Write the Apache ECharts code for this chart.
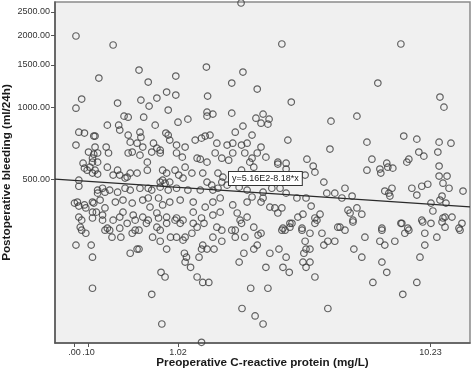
<!DOCTYPE html>
<html><head><meta charset="utf-8">
<script src="https://cdn.jsdelivr.net/npm/echarts@6/dist/echarts.min.js"></script>
<style>html,body{margin:0;padding:0;background:#fff}#c{width:474px;height:379px}</style>
</head><body><div id="c"></div>
<script>
// Preoperative C-reactive protein (mg/L), one entry per patient
const crp = [
2.10,0.01,0.30,0.55,1.45,0.18,0.65,0.99,2.14,1.91,
2.46,0.05,0.01,0.34,0.57,0.75,0.87,0.99,1.47,0.66,
0.89,1.46,1.56,1.46,1.91,0.40,0.44,0.60,2.43,1.16,
3.09,8.18,6.85,10.97,11.30,3.36,2.60,2.75,5.81,
0.25,0.35,0.73,1.02,2.14,0.03,0.07,0.14,0.36,0.44,
0.56,0.57,0.86,0.89,1.43,1.51,1.98,2.34,0.01,0.24,
0.46,0.53,0.59,0.71,0.75,0.79,0.91,1.00,1.12,1.27,
1.37,1.63,1.82,1.93,2.11,2.23,0.10,0.17,0.26,0.44,
0.48,0.56,0.69,0.79,1.00,1.08,1.30,1.35,1.46,1.60,
1.72,1.85,1.93,2.18,2.34,2.46,0.06,0.13,0.11,0.09,
0.13,0.25,0.34,0.36,0.46,0.53,0.64,0.64,0.82,0.87,
0.98,1.12,1.03,1.22,1.39,1.65,1.74,2.11,2.08,2.38,
2.29,0.03,0.03,0.30,0.41,0.43,0.79,0.82,0.85,0.91,
1.09,1.46,1.54,1.56,1.65,1.72,1.82,2.06,2.23,0.17,
0.21,0.23,0.27,0.34,0.41,0.46,0.56,0.65,0.69,0.79,
0.89,1.00,1.16,1.35,0.02,0.07,0.13,0.19,0.13,0.23,
0.32,0.39,0.39,0.48,0.59,0.65,0.67,0.77,0.82,0.91,
1.05,1.24,1.24,1.43,1.56,1.69,1.93,2.23,2.34,0.03,
0.05,0.13,0.21,0.30,0.36,0.49,0.51,0.59,0.65,0.75,
0.77,0.87,1.00,1.09,1.37,1.56,1.69,2.02,2.23,2.38,
0.04,0.25,0.36,0.75,1.30,1.63,2.08,
0.15,0.15,0.14,0.13,0.17,0.07,0.15,0.17,0.17,0.00,0.03,0.08,0.14,0.16,
2.55,2.72,4.71,3.26,4.67,2.55,2.67,2.98,3.21,2.98,
3.85,4.06,4.12,3.79,4.44,3.21,6.29,6.54,6.29,6.96,
7.01,7.34,7.40,7.69,8.36,9.23,9.37,9.73,10.90,11.90,
10.80,10.90,10.90,11.56,11.22,11.73,13.00,8.56,8.69,8.89,
9.58,10.02,9.23,10.26,10.97,11.14,11.47,7.23,7.46,7.64,
7.52,4.55,4.86,5.15,5.28,5.59,3.82,3.53,2.82,3.04,
2.60,2.60,3.21,2.55,2.77,2.90,3.09,2.98,3.99,4.30,
4.12,3.72,3.56,3.32,3.12,3.69,4.98,5.07,5.41,5.50,
5.81,6.04,5.63,7.07,8.18,8.62,9.58,10.26,10.41,11.22,
11.99,11.39,12.90,12.62,11.39,
0.05,0.08,0.23,0.27,0.29,0.37,0.48,0.51,0.55,0.70,
0.79,0.79,0.92,1.00,1.09,1.12,1.22,1.56,1.72,1.72,
1.91,1.98,1.98,2.18,2.48,0.01,0.12,0.13,0.46,0.53,
0.55,0.87,1.11,1.14,1.12,1.20,1.33,1.37,1.39,1.46,
1.58,2.16,2.06,2.38,2.46,0.80,0.85,1.30,1.39,1.49,
0.13,0.69,2.31,2.12,2.41,0.81,1.37,0.43,0.63,0.87,
1.05,1.24,1.41,2.11,0.98,0.21,
2.55,3.09,3.18,3.32,3.38,3.69,3.95,4.12,4.19,4.37,
5.28,5.63,4.59,4.86,4.44,6.19,7.07,6.96,7.23,7.81,
8.24,8.43,8.69,9.65,9.80,10.72,11.14,12.72,
2.77,3.01,3.21,3.79,3.82,3.75,3.95,3.72,3.95,3.82,
2.67,3.12,3.30,4.12,5.67,6.04,7.07,7.34,9.80,9.45,
2.72,6.59,9.23,8.30,4.59,2.60
];
// Postoperative bleeding (ml/24h), same order as crp
const bleeding = [
2724,1983,1819,1429,1471,1323,1273,1349,1402,1261,
1190,1081,990,1040,1070,1091,1156,1123,1112,1010,
972,953,935,917,944,917,908,908,899,891,
1836,1836,1261,1102,1000,1050,935,891,917,
841,841,841,865,833,786,779,757,802,764,
786,749,779,764,757,764,786,764,694,681,
714,707,681,707,674,661,728,694,681,728,
742,707,694,707,694,707,649,643,643,643,
649,630,649,643,643,618,612,606,589,643,
612,600,643,643,612,643,583,589,561,545,
530,561,545,520,530,530,589,545,545,530,
545,561,520,530,530,530,510,545,520,561,
589,495,467,520,505,510,486,495,481,486,
505,486,472,450,458,486,472,463,450,450,
458,441,450,441,458,450,458,458,450,463,
450,458,450,450,401,390,401,409,364,379,
401,409,364,397,409,417,382,417,390,401,
409,401,364,382,401,417,390,401,421,347,
337,344,354,337,347,354,337,347,337,361,
344,347,344,337,344,354,364,361,347,315,
315,312,312,315,315,315,337,
757,681,636,612,589,556,545,525,437,397,386,379,397,364,
857,849,874,728,668,681,618,589,583,578,
606,567,535,520,486,551,714,606,545,551,
530,583,561,556,757,735,649,624,714,707,
649,567,515,515,481,458,446,589,606,458,
467,476,429,397,409,425,397,446,437,458,
425,437,437,417,458,425,417,417,458,458,
441,417,437,401,382,379,379,361,386,357,
344,357,347,327,312,312,315,315,371,361,
379,357,337,312,327,312,337,327,368,344,
347,347,327,312,315,
306,297,306,306,286,286,297,306,306,286,
306,275,286,286,278,286,297,286,306,275,
306,306,286,286,292,265,265,236,245,255,
255,255,245,236,225,214,236,255,265,255,
255,245,225,255,265,204,195,195,185,185,
175,165,175,144,134,124,104,327,327,327,
327,327,327,327,337,337,
297,306,306,315,327,306,297,327,337,297,
306,331,275,275,265,286,306,275,265,275,
327,297,306,331,297,286,331,306,
245,255,236,275,255,245,255,225,225,214,
214,214,204,195,255,236,225,204,265,236,
175,185,185,165,144,124
];
// axis ticks
const xTickValues = [0, 0.10, 1.02, 10.23];
const yTickValues = [500, 1000, 1500, 2000, 2500];
// axis extents (CRP mg/L, bleeding ml/24h)
const xRange = [-0.124, 13.68];
const yRange = [103.3, 2751];
// fitted line, drawn across the plot
const fitCrp = [-0.124, 13.68];
const fitBleeding = [500, 383];
const fitLabel = 'y=5.16E2-8.18*x';

const X_OFFSET = 1; // the x axis is logarithmic in (CRP + 1)
const FONT = '"Liberation Sans", Arial, sans-serif';

const points = crp.map((c, i) => [c + X_OFFSET, bleeding[i]]);
const fitData = fitCrp.map((c, i) => [c + X_OFFSET, fitBleeding[i]]);

function xLabel(v) {
  let s = (v - X_OFFSET).toFixed(2);
  if (s.startsWith('0.')) s = s.slice(1);
  return s;
}

const chart = echarts.init(document.getElementById('c'), null, {renderer: 'canvas'});
chart.setOption({
  animation: false,
  grid: {left: 55, right: 4, top: 2, bottom: 36, show: true, containLabel: false,
         outerBoundsMode: 'none',
         backgroundColor: '#f0f0f0', borderColor: '#8a8a8a', borderWidth: 1.5},
  xAxis: {
    type: 'log', logBase: 10,
    min: xRange[0] + X_OFFSET, max: xRange[1] + X_OFFSET,
    name: 'Preoperative C-reactive protein (mg/L)',
    nameLocation: 'middle', nameGap: 14, nameMoveOverlap: false,
    nameTextStyle: {fontFamily: FONT, fontSize: 11.7, fontWeight: 'bold', color: '#1a1a1a'},
    axisLine: {show: true, lineStyle: {color: '#555', width: 1.5}},
    axisTick: {show: true, length: 4, lineStyle: {color: '#555'},
               customValues: xTickValues.map(v => v + X_OFFSET)},
    axisLabel: {fontFamily: FONT, fontSize: 9, color: '#333', margin: 5,
                customValues: xTickValues.map(v => v + X_OFFSET), formatter: xLabel},
    splitLine: {show: false}, minorTick: {show: false}
  },
  yAxis: {
    type: 'log', logBase: 10,
    min: yRange[0], max: yRange[1],
    name: 'Postoperative bleeding (ml/24h)',
    nameLocation: 'middle', nameGap: 42, nameMoveOverlap: false,
    nameTextStyle: {fontFamily: FONT, fontSize: 11.7, fontWeight: 'bold', color: '#1a1a1a'},
    axisLine: {show: true, lineStyle: {color: '#555', width: 1.5}},
    axisTick: {show: true, length: 4, lineStyle: {color: '#555'}, customValues: yTickValues},
    axisLabel: {fontFamily: FONT, fontSize: 9, color: '#333', margin: 5,
                customValues: yTickValues, formatter: v => Number(v).toFixed(2)},
    splitLine: {show: false}, minorTick: {show: false}
  },
  series: [
    {
      type: 'scatter', data: points, symbol: 'circle', symbolSize: 6.5,
      itemStyle: {color: 'rgba(0,0,0,0)', borderColor: '#3c3c3c', borderWidth: 1.2},
      z: 2
    },
    {
      type: 'line', data: fitData, symbol: 'none',
      lineStyle: {color: '#2a2a2a', width: 1.3}, z: 3
    }
  ],
  graphic: [{
    type: 'text', left: 228, top: 171, z: 10,
    style: {text: fitLabel, font: '9px ' + FONT, fill: '#1a1a1a',
            backgroundColor: '#fff', borderColor: '#333', borderWidth: 1, padding: [2, 3, 2, 3]}
  }]
});
</script></body></html>
